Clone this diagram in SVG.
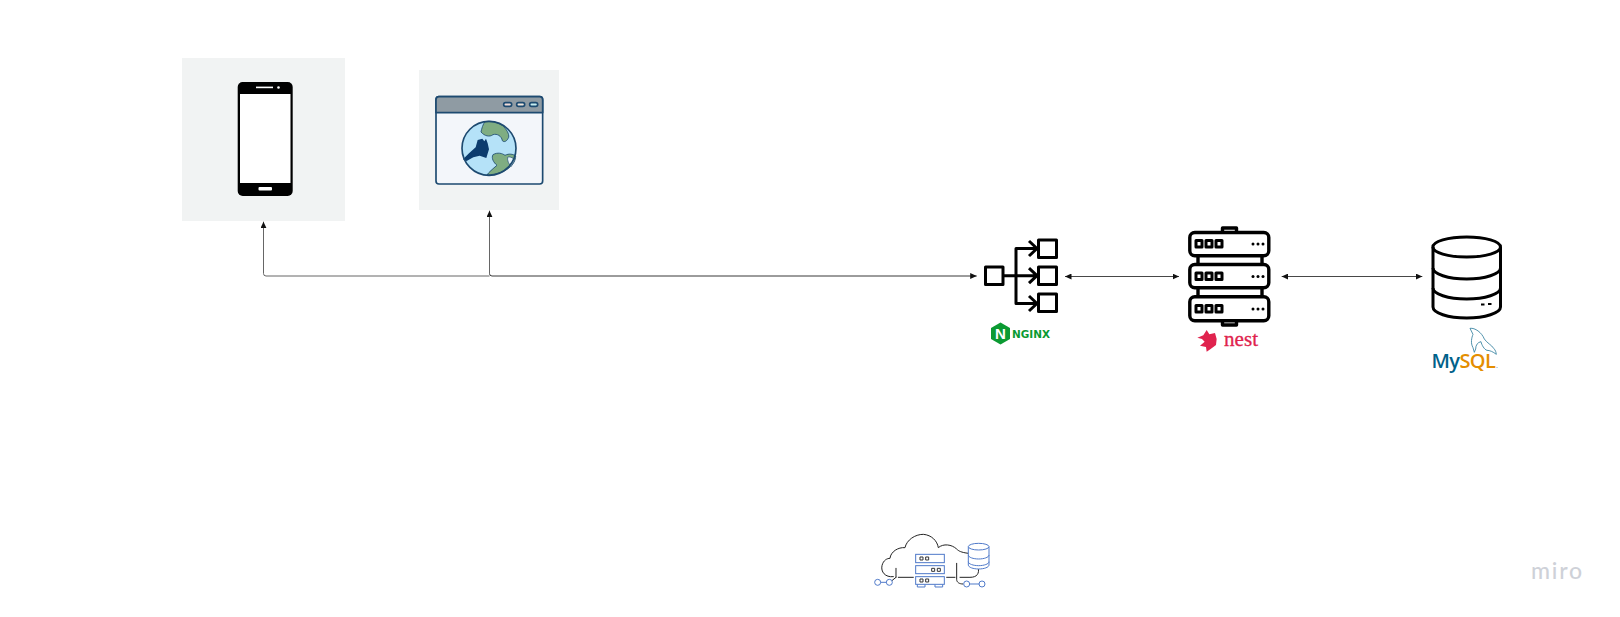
<svg xmlns="http://www.w3.org/2000/svg" width="1620" height="617" viewBox="0 0 1620 617">
<style>
.panel{fill:#f1f3f3}
.conn{fill:none;stroke-width:.9}
.k{fill:none;stroke:#000;stroke-width:3;stroke-linejoin:round}
.s{fill:none;stroke:#000;stroke-width:3.400;stroke-linejoin:round}
.kf{fill:#000}
.win{stroke:#1d4a70;stroke-width:5;stroke-linejoin:round}
.cl{fill:none;stroke:#222;stroke-width:3;stroke-linecap:round;stroke-linejoin:round}
.bl{fill:#fff;stroke:#4f79c9;stroke-width:3}
.bn{fill:none;stroke:#4f79c9;stroke-width:3}
</style>
<defs>
<marker id="a" markerUnits="userSpaceOnUse" markerWidth="7" markerHeight="6" refX="6.500" refY="3" orient="auto-start-reverse"><path d="M0 0L6.500 3L0 6z" fill="#111"/></marker>
</defs>

<g id="mobile">
<rect class="panel" x="182" y="58" width="163" height="163"/>
<rect class="kf" x="237.700" y="82" width="55" height="114" rx="5"/>
<rect x="240" y="94" width="50.500" height="89" fill="#fff"/>
<rect x="256" y="86.600" width="17" height="1.600" fill="#fff"/>
<circle cx="278.500" cy="87.500" r="1.300" fill="#fff"/>
<rect x="258.500" y="187" width="13.500" height="3.400" rx="1" fill="#fff"/>
</g>

<g id="web">
<rect class="panel" x="419" y="70" width="140" height="140"/>
<g transform="translate(425 90) scale(.3333)">
<rect x="33" y="20" width="320" height="262" rx="9" fill="#f3f6fa" class="win"/>
<path d="M33 68V29a9 9 0 0 1 9-9h302a9 9 0 0 1 9 9v39z" fill="#8f9ba3" class="win"/>
<rect x="236" y="38" width="24" height="11" rx="5.500" fill="#f2dcd8" class="win"/>
<rect x="275" y="38" width="24" height="11" rx="5.500" fill="#f1e6dc" class="win"/>
<rect x="314" y="38" width="24" height="11" rx="5.500" fill="#c5ecf0" class="win"/>
<circle cx="192" cy="175" r="81" fill="#b5e2f8"/>
<path d="M180 95C195 92 215 95 232 106C245 118 253 132 251 142C246 154 238 158 232 152C230 138 216 130 204 134C194 142 178 138 168 126C170 116 174 102 180 95z" fill="#7fad82" stroke="#1d4a70" stroke-width="2.500"/>
<path d="M183 146L178 154L172 146L158 150L152 172L132 190L114 208L125 213L145 202L164 197L184 204L192 178L188 160z" fill="#0c3c6e"/>
<path d="M204 194C218 186 232 190 240 196C252 190 264 192 272 198C272 222 246 252 186 255C190 248 204 236 216 226C206 218 198 204 204 194z" fill="#7fad82" stroke="#1d4a70" stroke-width="2.500"/>
<path d="M248 202C256 198 268 206 268 212L258 230C252 222 246 212 248 202z" fill="#e8f4fa" stroke="#1d4a70" stroke-width="2"/>
<circle cx="192" cy="175" r="81" fill="none" stroke="#1d4a70" stroke-width="5"/>
</g>
</g>

<g id="connectors">
<path class="conn" stroke="#555" d="M489.500 276H266a2.500 2.500 0 0 1-2.500-2.500V221.700" marker-end="url(#a)"/>
<path class="conn" stroke="#555" d="M489.500 273.500V210.700" marker-end="url(#a)"/>
<path class="conn" stroke="#222" d="M489.500 273.500a2.500 2.500 0 0 0 2.500 2.500H976.700" marker-end="url(#a)"/>
<path class="conn" stroke="#333" d="M1065 276.500H1179" marker-start="url(#a)" marker-end="url(#a)"/>
<path class="conn" stroke="#333" d="M1281.700 276.500H1422.300" marker-start="url(#a)" marker-end="url(#a)"/>
</g>

<g id="nginx">
<rect class="k" x="985.500" y="267" width="17.500" height="17.500"/>
<rect class="k" x="1038.500" y="240" width="18" height="17.500"/>
<rect class="k" x="1038.500" y="267" width="18" height="17.500"/>
<rect class="k" x="1038.500" y="294" width="18" height="17.500"/>
<path class="k" d="M1003 275.700H1037M1036 248.500H1016V303.500H1036M1029 241L1037 248.500L1029 256M1029 268.200L1037 275.700L1029 283.200M1029 296L1037 303.500L1029 311"/>
<path d="M1000.500 322.500L1010 328V339L1000.500 344.500L991 339V328z" fill="#0b9a32"/>
<text x="1000.500" y="339" font-family="'Liberation Sans',sans-serif" font-size="15" font-weight="700" fill="#fff" text-anchor="middle">N</text>
<text x="1012" y="338" font-family="'DejaVu Sans',sans-serif" font-size="11" font-weight="700" fill="#0b9a32" textLength="38" lengthAdjust="spacingAndGlyphs">NGINX</text>
</g>

<g id="nest">
<path class="s" d="M1222.500 231.500V228H1236.500V231.500M1222.500 321V325H1236.500V321M1198 255.700V264.500M1198 287.700V296.700M1262 255.700V264.500M1262 287.700V296.700"/>
<rect class="s" x="1189.800" y="232.500" width="79" height="23.200" rx="5"/>
<rect class="s" x="1189.800" y="264.500" width="79" height="23.200" rx="5"/>
<rect class="s" x="1189.800" y="296.700" width="79" height="24" rx="5"/>
<path class="k" d="M1196 240.500h6v6.500h-6zM1206 240.500h6v6.500h-6zM1216 240.500h6v6.500h-6zM1196 273h6v6.500h-6zM1206 273h6v6.500h-6zM1216 273h6v6.500h-6zM1196 305.500h6v6.500h-6zM1206 305.500h6v6.500h-6zM1216 305.500h6v6.500h-6z"/>
<g class="kf">
<circle cx="1253" cy="244" r="1.500"/><circle cx="1258" cy="244" r="1.500"/><circle cx="1263" cy="244" r="1.500"/>
<circle cx="1253" cy="276.500" r="1.500"/><circle cx="1258" cy="276.500" r="1.500"/><circle cx="1263" cy="276.500" r="1.500"/>
<circle cx="1253" cy="309" r="1.500"/><circle cx="1258" cy="309" r="1.500"/><circle cx="1263" cy="309" r="1.500"/>
</g>
<g transform="translate(1190 325) scale(.3333)">
<path d="M22 38L40 31L50 15L58 28L75 24L80 42L78 60L62 72L50 80L48 66L30 62L44 50L36 42z" fill="#e0234e"/>
</g>
<text x="1224" y="346" font-family="'Liberation Serif',serif" font-size="20" fill="#e0234e" stroke="#e0234e" stroke-width=".3" textLength="34" lengthAdjust="spacingAndGlyphs">nest</text>
</g>

<g id="mysql">
<path class="k" d="M1433 247V307C1433 313 1448 318 1466.700 318C1485 318 1500.500 313 1500.500 307V247"/>
<ellipse class="k" cx="1466.700" cy="247" rx="33.800" ry="10"/>
<path class="k" d="M1433 268C1433 274 1448 279 1466.700 279C1485 279 1500.500 274 1500.500 268M1433 288C1433 294 1448 299 1466.700 299C1485 299 1500.500 294 1500.500 288"/>
<rect class="kf" x="1481" y="303.500" width="3.500" height="2"/><rect class="kf" x="1488" y="303" width="3.500" height="2"/>
<g transform="translate(1425 325) scale(.3333)">
<path d="M135 10C150 8 170 22 178 42C186 54 200 60 206 70C212 76 213 82 214 88C204 80 194 76 186 76C178 74 170 60 168 50C158 52 152 60 152 72L148 82L144 68C136 54 140 38 144 28z" fill="none" stroke="#2f7d9c" stroke-width="2.500"/>
</g>
<text x="1431.500" y="367.700" font-family="'Open Sans',sans-serif" font-size="20" font-weight="600" letter-spacing="-.6"><tspan fill="#00618a">My</tspan><tspan fill="#e48e00">SQL</tspan><tspan fill="#00618a" font-size="5" dx="1">.</tspan></text>
</g>

<g id="cloud" transform="translate(860 525) scale(.3333)">
<path class="cl" d="M108 130V157M97 166L108 157M115 157H160M260 157H285M100 155C75 158 62 140 66 122C70 105 82 100 90 100C92 80 115 66 135 68C140 45 165 28 190 28C215 30 232 48 235 68C250 55 275 58 290 72C296 78 302 82 325 85M355 130C358 145 352 157 330 157H300M290 115V163C290 172 298 177 308 177"/>
<path class="bn" d="M62 172H80M328 177H358M172 178V186H195V178M225 178V186H248V178"/>
<circle class="bn" cx="53" cy="172" r="9"/><circle class="bn" cx="88" cy="172" r="9"/><circle class="bn" cx="320" cy="177" r="9"/><circle class="bn" cx="366" cy="177" r="9"/>
<rect class="bl" x="167" y="88" width="86" height="25"/>
<rect class="bl" x="167" y="122" width="86" height="24"/>
<rect class="bl" x="167" y="155" width="86" height="23"/>
<path class="bn" stroke-width="3" style="stroke:#333" d="M180 96h9v9h-9zM197 96h9v9h-9zM215 130h9v9h-9zM232 130h9v9h-9zM180 162h9v9h-9zM197 162h9v9h-9z"/>
<path class="bl" d="M325 65V120C325 127 340 132 356 132C372 132 387 127 387 120V65"/>
<ellipse class="bl" cx="356" cy="65" rx="31" ry="10"/>
<path class="bn" d="M325 90C325 97 340 102 356 102C372 102 387 97 387 90M325 110C325 117 340 122 356 122C372 122 387 117 387 110"/>
</g>

<g id="watermark">
<text x="1531" y="579" font-family="Lato,'Open Sans',sans-serif" font-size="23" font-weight="500" fill="#ced1d8" textLength="51" lengthAdjust="spacing">miro</text>
</g>
</svg>
